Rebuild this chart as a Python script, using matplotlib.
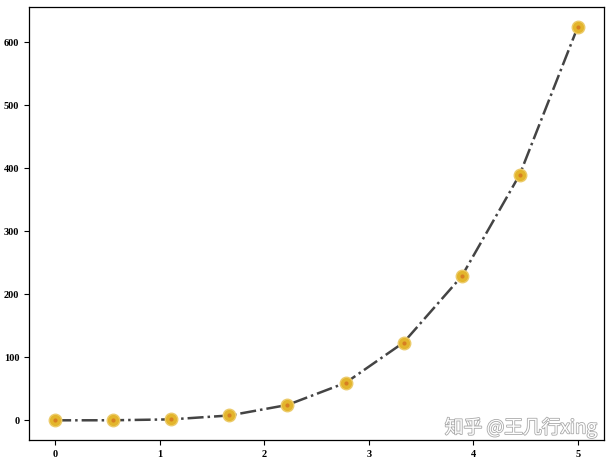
import matplotlib
matplotlib.use("Agg")
import matplotlib.pyplot as plt
import matplotlib.patheffects as pe

x_values = [0.0, 0.556, 1.111, 1.667, 2.222, 2.778, 3.333, 3.889, 4.444, 5.0]
y_values = [0.0, 0.1, 1.5, 7.7, 24.4, 59.5, 123.5, 228.7, 390.2, 625.0]
x_ticks = [0, 1, 2, 3, 4, 5]
y_ticks = [0, 100, 200, 300, 400, 500, 600]
watermark = "知乎 @王几行xing"

plt.rcParams['font.family'] = ['Liberation Serif', 'DejaVu Serif']
fig = plt.figure(figsize=(6.11, 4.62), dpi=100)
ax = fig.add_axes([29/611, 1 - 440/462, (604-29)/611, (440-7)/462])

ax.plot(x_values, y_values, color='#444444', linestyle='-.', linewidth=1.8,
        marker='o', markersize=9, markerfacecolor='#e3b52c',
        markeredgecolor='#eccb6a', markeredgewidth=1.0)
ax.plot(x_values, y_values, linestyle='none', marker='o', markersize=3,
        markerfacecolor='#d2691e', markeredgecolor='none', alpha=0.7)

ax.set_xticks(x_ticks)
ax.set_yticks(y_ticks)
ax.tick_params(labelsize=7.5, length=3.5, width=0.8)
for lab in ax.get_xticklabels() + ax.get_yticklabels():
    lab.set_fontweight('bold')
for s in ax.spines.values():
    s.set_linewidth(0.9)

fig.text(0.728, 0.062, watermark, fontsize=13.5, color='white',
         family=['Noto Sans CJK SC', 'DejaVu Sans'],
         path_effects=[pe.withStroke(linewidth=1.2, foreground='#aaaaaa')])

fig.savefig('out.png', dpi=100)
